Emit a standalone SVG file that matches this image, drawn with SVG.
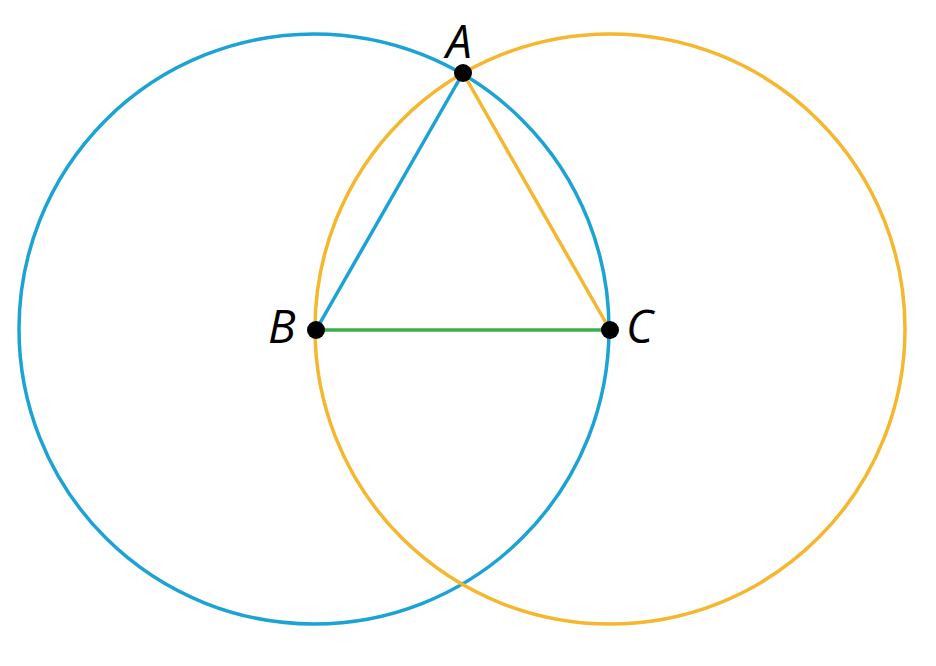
<svg xmlns="http://www.w3.org/2000/svg" width="936" height="666" viewBox="0 0 936 666">
<style>
.lbl{font-family:"Open Sans","Noto Sans",sans-serif;font-style:italic;font-size:46px;fill:#000}
.pt{fill:#000}
</style>
<rect width="936" height="666" fill="#fff"/>
<g id="circles" fill="none" stroke-width="3.5">
<circle id="circleB" cx="314" cy="329" r="295" stroke="#1AA3D4"/>
<circle id="circleC" cx="610" cy="329" r="295" stroke="#F4B72E"/>
</g>
<g id="connectors" stroke-width="3.5" stroke-linecap="round">
<line x1="316" y1="330" x2="463" y2="73" stroke="#1AA3D4"/>
<line x1="463" y1="73" x2="610" y2="330" stroke="#F4B72E"/>
<line x1="316" y1="330" x2="610" y2="330" stroke="#3DAE49"/>
</g>
<g id="A"><circle class="pt" cx="463" cy="73" r="9"/><text class="lbl" x="446" y="58">A</text></g>
<g id="B"><circle class="pt" cx="316" cy="330" r="9"/><text class="lbl" x="268" y="343">B</text></g>
<g id="C"><circle class="pt" cx="610" cy="330" r="9"/><text class="lbl" x="626" y="343">C</text></g>
</svg>
